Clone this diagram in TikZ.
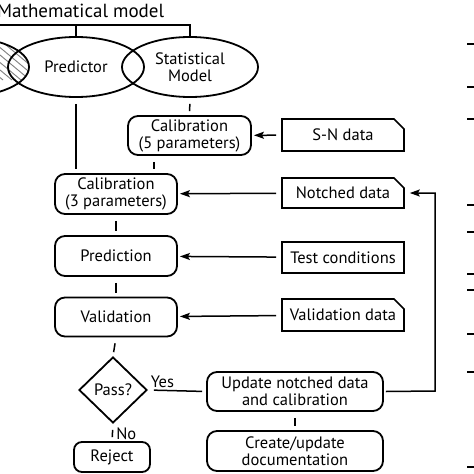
\documentclass[tikz,border=0pt]{standalone}
\usepackage{fontspec}
\setmainfont{PT Sans}
\usetikzlibrary{arrows.meta,shapes.geometric,shapes.misc}

\begin{document}
\begin{tikzpicture}[x=1pt,y=-1pt,>={Stealth[length=10pt,width=7pt,inset=2pt]},
  font=\fontsize{16.5}{17}\selectfont,
  line/.style={line width=1.5pt},
  flow box/.style={draw,line width=1.8pt,rounded corners=10pt,inner sep=0pt,align=center,minimum width=122pt,minimum height=40pt},
  data box/.style={draw,line width=1.6pt,inner sep=0pt,minimum width=122pt,minimum height=31pt},
  doc box/.style={data box,chamfered rectangle,chamfered rectangle corners=north east,chamfered rectangle xsep=5pt,chamfered rectangle ysep=5pt},
  model/.style={draw,ellipse,line width=1.8pt,inner sep=0pt,align=center,minimum width=136pt,minimum height=60pt}]
  \useasboundingbox (0,0) rectangle (474,474);

  % mathematical model
  \node[anchor=base west,inner sep=0pt,font=\fontsize{19}{20}\selectfont] (title) at (-3,17) {Mathematical model};
  \coordinate (bar) at (-10,25);
  \begin{scope}
    \clip (-39,67) ellipse (68 and 30);
    \foreach \i in {-120,-111,...,36} \draw[gray,line width=0.9pt] (\i,30) -- ++(60,50);
  \end{scope}
  \draw[line width=1.8pt] (-39,67) ellipse (68 and 30);
  \node[model] (pred) at (76,67) {\raisebox{-3pt}{Predictor}};
  \node[model] (stat) at (190,67) {Statistical\\Model};

  % flow
  \node[flow box,minimum width=123pt,minimum height=39pt] (cal5) at (189.5,135.5) {Calibration\\(5 parameters)};
  \node[flow box] (cal3) at (116,194) {Calibration\\(3 parameters)};
  \node[flow box] (predn) at (116,256) {Prediction};
  \node[flow box,minimum height=39pt] (valid) at (116,317) {Validation};
  \node[draw,diamond,aspect=1,line width=1.8pt,inner sep=0pt,minimum width=68pt,minimum height=66pt] (pass) at (113,390) {Pass?};
  \node[flow box,minimum width=76pt,minimum height=30pt,rounded corners=8pt] (reject) at (112,457) {Reject};
  \node[flow box,minimum width=176pt,minimum height=39pt] (upd) at (295,391.5) {Update notched data\\and calibration};
  \node[flow box,minimum width=176pt] (docu) at (295,451) {Create/update\\documentation};

  % data
  \node[doc box,minimum height=32pt] (sn) at (343,135) {S-N data};
  \node[doc box,minimum height=30pt] (notch) at (343,193) {Notched data};
  \node[data box] (test) at (343,257.5) {Test conditions};
  \node[doc box,minimum height=32pt] (vdata) at (343,315) {Validation data};

  % links
  \draw[line] (bar) -| (stat.north);
  \draw[line] (pred.north) -- (pred.north |- bar);
  \path[line,shorten <=6pt,shorten >=4pt]
    (pred.south) edge (pred.south |- cal3.north)
    (stat.south) edge (cal5.north)
    ([xshift=-35.5pt]cal5.south) edge ([xshift=38pt]cal3.north)
    (cal3) edge (predn)
    (predn) edge (valid)
    (valid.south) edge (pass.north)
    (pass.south) edge node[right,inner sep=3pt,yshift=-1pt] {No} (reject.north)
    (upd) edge (docu)
    (pass.east) edge node[pos=0.25,above,inner sep=2pt] {Yes} (upd.west)
  ;
  \path[line,->,shorten <=5pt,shorten >=2pt]
    (sn) edge (cal5)
    (notch) edge (cal3)
    (test) edge (predn)
    (vdata) edge (valid)
  ;
  \coordinate (loop) at (435,391);
  \draw[line,->,shorten >=5pt] ([xshift=2pt]upd.east) -- (loop) |- (notch.east);

  % ticks of next panel
  \foreach \t in {44,87,119,205,232,274,290,334,372,467}
    \draw[line width=1.6pt] (467,\t) -- (476,\t);
\end{tikzpicture}
\end{document}
